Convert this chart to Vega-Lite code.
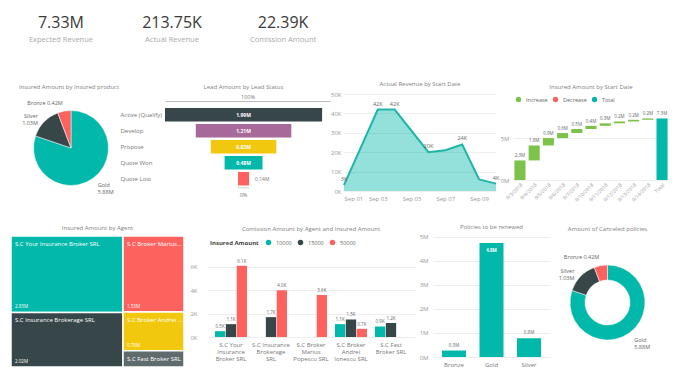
{
  "$schema": "https://vega.github.io/schema/vega-lite/v6.json",
  "background": "white",
  "padding": {"left": 10, "top": 0, "right": 0, "bottom": 0},
  "spacing": 20,
  "resolve": {"scale": {"color": "independent"}, "legend": {"color": "independent"}},
  "config": {
    "font": "Open Sans",
    "view": {"stroke": null},
    "title": {"fontSize": 6, "fontWeight": "normal", "color": "#808080", "offset": 4, "anchor": "middle", "frame": "group"},
    "axis": {"labelFontSize": 6, "labelColor": "#999999", "domain": false, "ticks": false, "tickSize": 0, "grid": false},
    "legend": {"labelFontSize": 6, "labelColor": "#666666", "symbolType": "circle", "symbolSize": 30, "titleFontSize": 6}
  },
  "vconcat": [
    {
      "width": 322,
      "height": 61,
      "data": {"values": [
        {"measure": "Expected Revenue", "value": "7.33M"},
        {"measure": "Actual Revenue", "value": "213.75K"},
        {"measure": "Comission Amount", "value": "22.39K"}
      ]},
      "encoding": {
        "x": {"field": "measure", "type": "nominal", "sort": null, "scale": {"type": "point", "padding": 0.45}, "axis": null}
      },
      "layer": [
        {"mark": {"type": "text", "baseline": "middle", "fontSize": 16, "color": "#3a3a3a", "dy": -8}, "encoding": {"text": {"field": "value"}}},
        {"mark": {"type": "text", "baseline": "middle", "fontSize": 7.5, "color": "#aaaaaa", "dy": 9}, "encoding": {"text": {"field": "measure"}}}
      ]
    },
    {
      "resolve": {"scale": {"color": "independent"}, "legend": {"color": "independent"}},
      "spacing": 0,
      "hconcat": [
        {
          "title": {"text": "Insured Amount by Insured product", "dx": 4},
          "width": 108,
          "height": 108,
          "data": {"values": [
            {"product": "Gold", "amount": 5.88},
            {"product": "Silver", "amount": 1.03},
            {"product": "Bronze", "amount": 0.42}
          ]},
          "transform": [
            {"calculate": "datum.product === 'Bronze' ? 'Bronze 0.42M' : [datum.product, format(datum.amount, '.2f') + 'M']", "as": "lbl"}
          ],
          "encoding": {
            "theta": {"field": "amount", "type": "quantitative", "stack": true},
            "order": {"field": "amount", "sort": "descending"},
            "color": {"field": "product", "type": "nominal", "scale": {"domain": ["Gold", "Silver", "Bronze"], "range": ["#01B8AA", "#374649", "#FD625E"]}, "legend": null}
          },
          "layer": [
            {"mark": {"type": "arc", "outerRadius": 37.5, "xOffset": 6, "stroke": "white", "strokeWidth": 0.5}},
            {"mark": {"type": "text", "radius": 46, "xOffset": 6, "align": "left", "fontSize": 5.5, "lineHeight": 7},
             "encoding": {"text": {"condition": {"test": "datum.product === 'Gold'", "field": "lbl"}, "value": ""}, "color": {"value": "#666666"}}},
            {"mark": {"type": "text", "radius": 46, "xOffset": 6, "align": "right", "fontSize": 5.5, "lineHeight": 7},
             "encoding": {"text": {"condition": {"test": "datum.product !== 'Gold'", "field": "lbl"}, "value": ""}, "color": {"value": "#666666"}}}
          ]
        },
        {
          "title": {"text": "Lead Amount by Lead Status", "dx": -4},
          "width": 165,
          "height": 96,
          "data": {"values": [
            {"status": "Active (Qualify)", "amount": 1.99},
            {"status": "Develop", "amount": 1.21},
            {"status": "Propose", "amount": 0.83},
            {"status": "Quote Won", "amount": 0.48},
            {"status": "Quote Lost", "amount": 0.14}
          ]},
          "transform": [
            {"joinaggregate": [{"op": "max", "field": "amount", "as": "mx"}]},
            {"calculate": "datum.mx / 2", "as": "mid"},
            {"calculate": "(datum.mx + datum.amount) / 2", "as": "right"},
            {"calculate": "(datum.mx - datum.amount) / 2", "as": "left"},
            {"calculate": "format(datum.amount, '.2f') + 'M'", "as": "lbl"}
          ],
          "encoding": {
            "y": {"field": "status", "type": "nominal", "sort": null, "scale": {"paddingInner": 0.16, "paddingOuter": 0.58, "align": 0.757},
                  "axis": {"labelAlign": "left", "labelPadding": 45, "labelFontSize": 6, "labelColor": "#777777", "labelLimit": 60}, "title": null}
          },
          "resolve": {"axis": {"x": "independent"}},
          "layer": [
            {"mark": {"type": "bar"},
             "encoding": {
               "x": {"field": "amount", "type": "quantitative", "stack": "center", "scale": {"domain": [0, 2.09], "nice": false},
                     "axis": {"orient": "top", "domain": true, "domainColor": "#bbbbbb", "labels": false, "title": "100%", "titleFontSize": 5.5, "titleColor": "#777777", "titleFontWeight": "normal", "titlePadding": 2, "offset": -7}},
               "color": {"field": "status", "type": "nominal", "sort": null, "scale": {"range": ["#374649", "#A66999", "#F2C80F", "#01B8AA", "#FD625E"]}, "legend": null}
             }},
            {"transform": [{"filter": "datum.amount >= 0.3"}],
             "mark": {"type": "text", "fontSize": 5, "color": "white", "fontWeight": "bold"},
             "encoding": {"x": {"field": "mid", "type": "quantitative", "axis": null}, "text": {"field": "lbl"}}},
            {"transform": [{"filter": "datum.amount < 0.3"}],
             "mark": {"type": "text", "fontSize": 5, "color": "#777777", "align": "left", "dx": 6},
             "encoding": {"x": {"field": "right", "type": "quantitative", "axis": null},
                          "text": {"field": "lbl"}}},
            {"transform": [{"filter": "datum.amount < 0.3"}],
             "mark": {"type": "rule", "color": "#bbbbbb", "strokeWidth": 0.7, "yOffset": 9},
             "encoding": {"x": {"field": "left", "type": "quantitative", "axis": null}, "x2": {"field": "right"}}},
            {"transform": [{"filter": "datum.amount < 0.3"}],
             "mark": {"type": "text", "fontSize": 5.5, "color": "#777777", "dy": 16},
             "encoding": {"x": {"field": "mid", "type": "quantitative", "axis": null}, "text": {"value": "0%"}}}
          ]
        },
        {
          "title": "Actual Revenue by Start Date",
          "width": 152,
          "height": 97,
          "data": {"values": [
            {"date": "2018-09-01", "revenue": 3000},
            {"date": "2018-09-03", "revenue": 42000},
            {"date": "2018-09-04", "revenue": 42000},
            {"date": "2018-09-06", "revenue": 20000},
            {"date": "2018-09-07", "revenue": 21000},
            {"date": "2018-09-08", "revenue": 24000},
            {"date": "2018-09-09", "revenue": 6000},
            {"date": "2018-09-10", "revenue": 3800}
          ]},
          "transform": [{"calculate": "format(datum.revenue / 1000, '.0f') + 'K'", "as": "lbl"}],
          "encoding": {
            "x": {"field": "date", "type": "temporal",
                  "scale": {"type": "utc", "domain": [{"year": 2018, "month": 9, "date": 1, "utc": true}, {"year": 2018, "month": 9, "date": 10, "utc": true}]},
                  "axis": {"values": [
                    {"year": 2018, "month": 9, "date": 1, "utc": true},
                    {"year": 2018, "month": 9, "date": 3, "utc": true},
                    {"year": 2018, "month": 9, "date": 5, "utc": true},
                    {"year": 2018, "month": 9, "date": 7, "utc": true},
                    {"year": 2018, "month": 9, "date": 9, "utc": true}
                  ], "format": "%b %d", "labelPadding": 4}, "title": null},
            "y": {"field": "revenue", "type": "quantitative", "scale": {"domain": [0, 50000]},
                  "axis": {"values": [0, 10000, 20000, 30000, 40000, 50000], "labelExpr": "datum.value / 1000 + 'K'", "grid": true, "gridColor": "#eeeeee", "labelPadding": 3}, "title": null}
          },
          "layer": [
            {"mark": {"type": "area", "color": "#01B8AA", "opacity": 0.42}},
            {"mark": {"type": "line", "color": "#1fb5a9", "strokeWidth": 2}},
            {"transform": [{"filter": "datum.revenue !== 21000 && datum.revenue !== 6000"}],
             "mark": {"type": "text", "dy": -6, "fontSize": 5.5, "color": "#666666"},
             "encoding": {"text": {"field": "lbl"}}}
          ]
        },
        {
          "title": "Insured Amount by Start Date",
          "width": 156,
          "height": 86,
          "data": {"values": [
            {"d": "9/3/2018", "amount": 2.33, "kind": "Increase"},
            {"d": "9/4/2018", "amount": 1.78, "kind": "Increase"},
            {"d": "9/5/2018", "amount": 0.88, "kind": "Increase"},
            {"d": "9/6/2018", "amount": 0.6, "kind": "Increase"},
            {"d": "9/7/2018", "amount": 0.48, "kind": "Increase"},
            {"d": "9/10/2018", "amount": 0.38, "kind": "Increase"},
            {"d": "9/11/2018", "amount": 0.3, "kind": "Increase"},
            {"d": "9/12/2018", "amount": 0.22, "kind": "Increase"},
            {"d": "9/13/2018", "amount": 0.2, "kind": "Increase"},
            {"d": "9/14/2018", "amount": 0.16, "kind": "Increase"},
            {"d": "Total", "amount": 7.33, "kind": "Total"}
          ]},
          "transform": [
            {"window": [{"op": "sum", "field": "amount", "as": "cum"}], "frame": [null, 0]},
            {"calculate": "datum.kind === 'Total' ? 0 : datum.cum - datum.amount", "as": "start"},
            {"calculate": "datum.kind === 'Total' ? datum.amount : datum.cum", "as": "end"},
            {"calculate": "format(datum.amount, '.1f') + 'M'", "as": "lbl"}
          ],
          "encoding": {
            "x": {"field": "d", "type": "nominal", "sort": null, "scale": {"paddingInner": 0.22, "paddingOuter": 0.1},
                  "axis": {"labelAngle": -45, "labelFontSize": 5, "labelPadding": 2}, "title": null}
          },
          "layer": [
            {"mark": "bar",
             "encoding": {
               "y": {"field": "start", "type": "quantitative", "scale": {"domain": [0, 10.24], "nice": false},
                     "axis": {"values": [0, 5], "labelExpr": "datum.value + 'M'", "grid": true, "gridColor": "#eeeeee", "labelPadding": 4}, "title": null},
               "y2": {"field": "end"},
               "color": {"field": "kind", "type": "nominal", "scale": {"domain": ["Increase", "Decrease", "Total"], "range": ["#7DC24B", "#FD625E", "#01B8AA"]},
                         "legend": {"title": null, "orient": "top-left", "direction": "horizontal", "offset": 2, "columnPadding": 4, "labelFontSize": 5.5, "symbolSize": 28}}
             }},
            {"mark": {"type": "text", "dy": -4, "fontSize": 4.5, "color": "#666666"},
             "encoding": {"y": {"field": "end", "type": "quantitative"}, "text": {"field": "lbl"}}}
          ]
        }
      ]
    },
    {
      "resolve": {"scale": {"color": "independent"}, "legend": {"color": "independent"}},
      "spacing": 4,
      "hconcat": [
        {
          "title": "Insured Amount by Agent",
          "width": 173,
          "height": 131,
          "data": {"values": [
            {"agent": "S.C Your Insurance Broker SRL", "amount": 2.83},
            {"agent": "S.C Insurance Brokerage SRL", "amount": 2.02},
            {"agent": "S.C Broker Marius Popescu SRL", "amount": 1.53},
            {"agent": "S.C Broker Andrei Ionescu SRL", "amount": 0.78},
            {"agent": "S.C Fast Broker SRL", "amount": 0.33}
          ]},
          "transform": [
            {"window": [{"op": "row_number", "as": "rank"}], "sort": [{"field": "amount", "order": "descending"}]},
            {"calculate": "datum.rank <= 2 ? 'L' : 'R'", "as": "col"},
            {"joinaggregate": [{"op": "sum", "field": "amount", "as": "total"}]},
            {"joinaggregate": [{"op": "sum", "field": "amount", "as": "coltotal"}], "groupby": ["col"]},
            {"window": [{"op": "sum", "field": "amount", "as": "cum"}], "groupby": ["col"], "sort": [{"field": "amount", "order": "descending"}], "frame": [null, 0]},
            {"calculate": "datum.col === 'L' ? 0 : 1 - datum.coltotal / datum.total", "as": "x0"},
            {"calculate": "datum.col === 'L' ? datum.coltotal / datum.total : 1", "as": "x1"},
            {"calculate": "(datum.cum - datum.amount) / datum.coltotal", "as": "y0"},
            {"calculate": "datum.cum / datum.coltotal", "as": "y1"},
            {"calculate": "format(datum.amount, '.2f') + 'M'", "as": "lbl"}
          ],
          "encoding": {
            "x": {"field": "x0", "type": "quantitative", "scale": {"domain": [0, 1], "nice": false, "zero": false}, "axis": null},
            "y": {"field": "y0", "type": "quantitative", "scale": {"domain": [0, 1], "nice": false, "zero": false, "reverse": true}, "axis": null}
          },
          "layer": [
            {"mark": {"type": "rect", "stroke": "white", "strokeWidth": 1.5},
             "encoding": {
               "x2": {"field": "x1"},
               "y2": {"field": "y1"},
               "color": {"field": "agent", "type": "nominal", "sort": null,
                         "scale": {"range": ["#01B8AA", "#374649", "#FD625E", "#F2C80F", "#5F6B6D"]}, "legend": null}
             }},
            {"transform": [{"filter": "datum.col === 'L'"}],
             "mark": {"type": "text", "align": "left", "baseline": "top", "dx": 4, "dy": 5, "fontSize": 6, "color": "white", "limit": 105},
             "encoding": {"text": {"field": "agent"}}},
            {"transform": [{"filter": "datum.col === 'R'"}],
             "mark": {"type": "text", "align": "left", "baseline": "top", "dx": 4, "dy": 5, "fontSize": 6, "color": "white", "limit": 56},
             "encoding": {"text": {"field": "agent"}}},
            {"transform": [{"filter": "datum.amount > 0.5"}],
             "mark": {"type": "text", "align": "left", "baseline": "bottom", "dx": 4, "dy": -3, "fontSize": 4.5, "color": "white"},
             "encoding": {"y": {"field": "y1", "type": "quantitative"}, "text": {"field": "lbl"}}}
          ]
        },
        {
          "title": "Comission Amount by Agent and Insured Amount",
          "width": 208,
          "height": 101,
          "data": {"values": [
            {"agent": "S.C Your Insurance Broker SRL", "insured": "10000", "commission": 500},
            {"agent": "S.C Your Insurance Broker SRL", "insured": "15000", "commission": 1100},
            {"agent": "S.C Your Insurance Broker SRL", "insured": "50000", "commission": 6100},
            {"agent": "S.C Insurance Brokerage SRL", "insured": "15000", "commission": 1700},
            {"agent": "S.C Insurance Brokerage SRL", "insured": "50000", "commission": 4000},
            {"agent": "S.C Broker Marius Popescu SRL", "insured": "50000", "commission": 3600},
            {"agent": "S.C Broker Andrei Ionescu SRL", "insured": "10000", "commission": 1100},
            {"agent": "S.C Broker Andrei Ionescu SRL", "insured": "15000", "commission": 1500},
            {"agent": "S.C Broker Andrei Ionescu SRL", "insured": "50000", "commission": 700},
            {"agent": "S.C Fast Broker SRL", "insured": "10000", "commission": 900},
            {"agent": "S.C Fast Broker SRL", "insured": "15000", "commission": 1200}
          ]},
          "transform": [{"calculate": "format(datum.commission / 1000, '.1f') + 'K'", "as": "lbl"}],
          "encoding": {
            "x": {"field": "agent", "type": "nominal", "sort": null, "scale": {"paddingInner": 0.2, "paddingOuter": 0.2},
                  "axis": {"labelAngle": 0, "labelColor": "#777777", "labelPadding": 4, "labelLineHeight": 7,
                           "labelExpr": "datum.label === 'S.C Fast Broker SRL' ? ['S.C Fast', 'Broker SRL'] : [join(slice(split(datum.label, ' '), 0, 2), ' '), split(datum.label, ' ')[2], join(slice(split(datum.label, ' '), 3), ' ')]"},
                  "title": null},
            "xOffset": {"field": "insured", "type": "nominal", "scale": {"paddingInner": 0.05}},
            "y": {"field": "commission", "type": "quantitative", "scale": {"domain": [0, 8650], "nice": false},
                  "axis": {"values": [0, 2000, 4000, 6000], "labelExpr": "datum.value / 1000 + 'K'", "grid": true, "gridColor": "#eeeeee", "labelPadding": 10}, "title": null}
          },
          "layer": [
            {"mark": "bar",
             "encoding": {"color": {"field": "insured", "type": "nominal", "scale": {"domain": ["10000", "15000", "50000"], "range": ["#01B8AA", "#374649", "#FD625E"]},
                                    "legend": {"title": "Insured Amount", "orient": "top-left", "direction": "horizontal", "titleOrient": "left", "titleFontWeight": "bold", "titleColor": "#444444", "offset": 3, "columnPadding": 5, "titlePadding": 6, "labelFontSize": 5.5}}}},
            {"mark": {"type": "text", "dy": -4, "fontSize": 4.5, "color": "#666666"},
             "encoding": {"text": {"field": "lbl"}}}
          ]
        },
        {
          "title": "Policies to be renewed",
          "width": 117,
          "height": 121,
          "data": {"values": [
            {"product": "Bronze", "amount": 0.27},
            {"product": "Gold", "amount": 4.75},
            {"product": "Silver", "amount": 0.78}
          ]},
          "transform": [{"calculate": "format(datum.amount, '.1f') + 'M'", "as": "lbl"}],
          "encoding": {
            "x": {"field": "product", "type": "nominal", "sort": null, "scale": {"paddingInner": 0.36, "paddingOuter": 0.24},
                  "axis": {"labelAngle": 0, "labelColor": "#777777", "labelPadding": 4}, "title": null},
            "y": {"field": "amount", "type": "quantitative", "scale": {"domain": [0, 5.04], "nice": false},
                  "axis": {"values": [0, 1, 2, 3, 4, 5], "labelExpr": "datum.value + 'M'", "grid": true, "gridColor": "#eeeeee", "labelPadding": 5}, "title": null}
          },
          "layer": [
            {"mark": {"type": "bar", "color": "#01B8AA"}},
            {"transform": [{"filter": "datum.amount < 2"}],
             "mark": {"type": "text", "dy": -5, "fontSize": 4.5, "color": "#666666"},
             "encoding": {"text": {"field": "lbl"}}},
            {"transform": [{"filter": "datum.amount >= 2"}],
             "mark": {"type": "text", "baseline": "top", "dy": 5, "fontSize": 4.5, "color": "white", "fontWeight": "bold"},
             "encoding": {"text": {"field": "lbl"}}}
          ]
        },
        {
          "title": "Amount of Canceled policies",
          "width": 107,
          "height": 133,
          "data": {"values": [
            {"product": "Gold", "amount": 5.88},
            {"product": "Silver", "amount": 1.03},
            {"product": "Bronze", "amount": 0.42}
          ]},
          "transform": [
            {"calculate": "datum.product === 'Bronze' ? 'Bronze 0.42M' : [datum.product, format(datum.amount, '.2f') + 'M']", "as": "lbl"}
          ],
          "encoding": {
            "theta": {"field": "amount", "type": "quantitative", "stack": true},
            "order": {"field": "amount", "sort": "descending"},
            "color": {"field": "product", "type": "nominal", "scale": {"domain": ["Gold", "Silver", "Bronze"], "range": ["#01B8AA", "#374649", "#FD625E"]}, "legend": null}
          },
          "layer": [
            {"mark": {"type": "arc", "outerRadius": 37.5, "innerRadius": 22.5, "stroke": "white", "strokeWidth": 0.5}},
            {"mark": {"type": "text", "radius": 46, "align": "left", "fontSize": 5.5, "lineHeight": 7},
             "encoding": {"text": {"condition": {"test": "datum.product === 'Gold'", "field": "lbl"}, "value": ""}, "color": {"value": "#666666"}}},
            {"mark": {"type": "text", "radius": 46, "align": "right", "fontSize": 5.5, "lineHeight": 7},
             "encoding": {"text": {"condition": {"test": "datum.product !== 'Gold'", "field": "lbl"}, "value": ""}, "color": {"value": "#666666"}}}
          ]
        }
      ]
    }
  ]
}
